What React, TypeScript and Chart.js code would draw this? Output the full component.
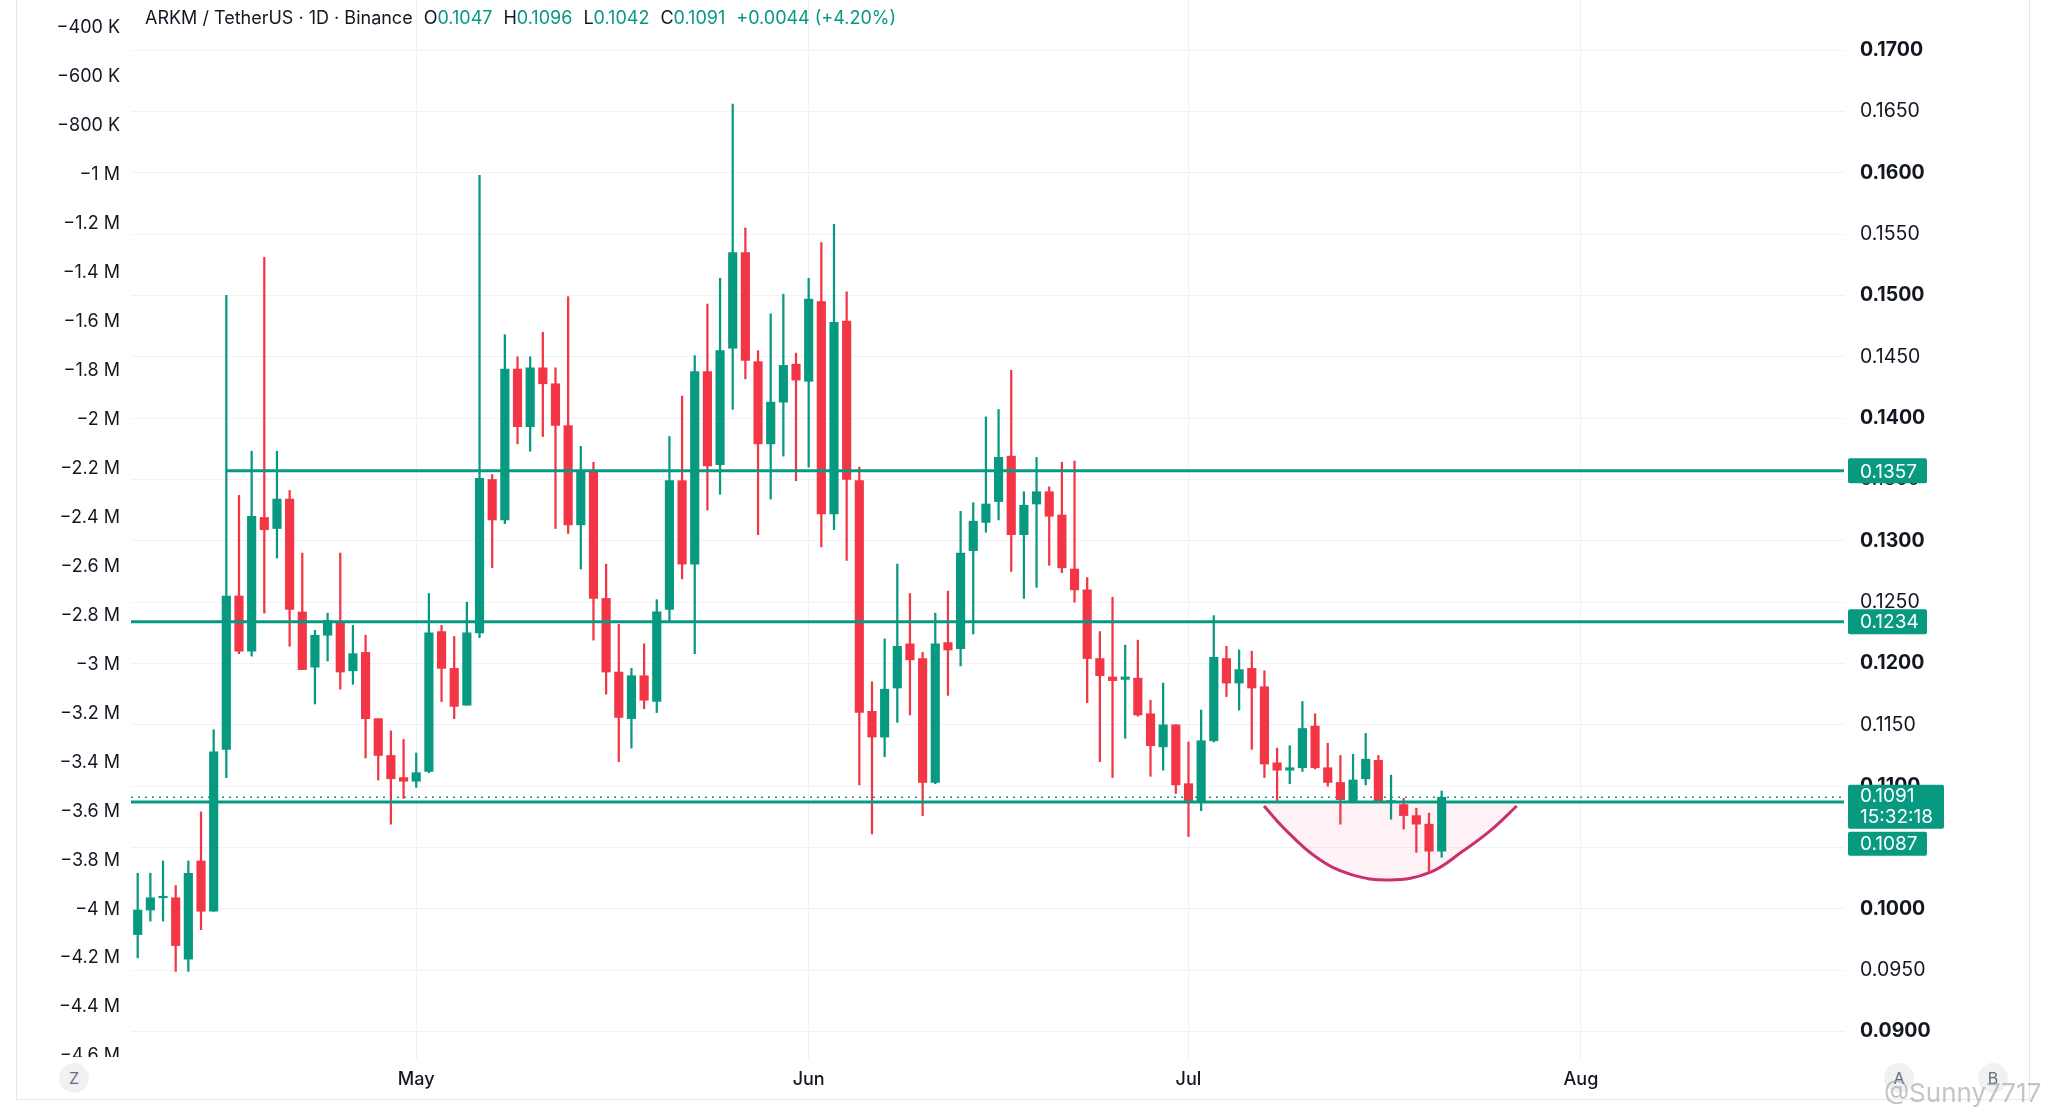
import React, { useEffect, useRef } from "react";
import { Chart, registerables } from "chart.js";

Chart.register(...registerables);

// ---------- data ----------
const startDate = "2024-04-09"; // day index 0
const opens = [
  0.0979, 0.0999, 0.1009, 0.1009, 0.0959, 0.1039, 0.0998, 0.1130, 0.1255, 0.1210,
  0.1319, 0.1310, 0.1334, 0.1242, 0.1197, 0.1223, 0.1233, 0.1194, 0.1209, 0.1155,
  0.1125, 0.1107, 0.1104, 0.1112, 0.1226, 0.1196, 0.1166, 0.1225, 0.1350, 0.1317,
  0.1440, 0.1393, 0.1441, 0.1428, 0.1394, 0.1313, 0.1356, 0.1253, 0.1193, 0.1155,
  0.1190, 0.1169, 0.1244, 0.1349, 0.1281, 0.1438, 0.1362, 0.1457, 0.1535, 0.1446,
  0.1379, 0.1413, 0.1444, 0.1430, 0.1495, 0.1322, 0.1479, 0.1349, 0.1161, 0.1140,
  0.1180, 0.1216, 0.1204, 0.1103, 0.1217, 0.1212, 0.1292, 0.1315, 0.1332, 0.1369,
  0.1305, 0.1330, 0.1340, 0.1321, 0.1277, 0.1260, 0.1204, 0.1189, 0.1187, 0.1188,
  0.1159, 0.1132, 0.1150, 0.1102, 0.1087, 0.1137, 0.1204, 0.1184, 0.1196, 0.1181,
  0.1119, 0.1113, 0.1115, 0.1149, 0.1115, 0.1103, 0.1088, 0.1106, 0.1121, 0.1087,
  0.1085, 0.1076, 0.1069, 0.1047,
];
const highs = [
  0.1029, 0.1029, 0.1039, 0.1019, 0.1039, 0.1079, 0.1146, 0.1500, 0.1337, 0.1373,
  0.1531, 0.1373, 0.1341, 0.1290, 0.1227, 0.1241, 0.1290, 0.1231, 0.1223, 0.1155,
  0.1145, 0.1138, 0.1127, 0.1257, 0.1231, 0.1222, 0.1250, 0.1598, 0.1354, 0.1468,
  0.1450, 0.1450, 0.1470, 0.1441, 0.1499, 0.1377, 0.1364, 0.1281, 0.1232, 0.1196,
  0.1216, 0.1252, 0.1385, 0.1418, 0.1451, 0.1493, 0.1514, 0.1656, 0.1555, 0.1455,
  0.1485, 0.1501, 0.1453, 0.1514, 0.1543, 0.1558, 0.1503, 0.1360, 0.1185, 0.1220,
  0.1281, 0.1257, 0.1209, 0.1241, 0.1259, 0.1324, 0.1331, 0.1401, 0.1407, 0.1439,
  0.1340, 0.1368, 0.1344, 0.1364, 0.1365, 0.1270, 0.1226, 0.1254, 0.1215, 0.1219,
  0.1170, 0.1184, 0.1150, 0.1136, 0.1162, 0.1239, 0.1214, 0.1211, 0.1210, 0.1194,
  0.1131, 0.1133, 0.1169, 0.1159, 0.1135, 0.1125, 0.1126, 0.1143, 0.1125, 0.1109,
  0.1090, 0.1082, 0.1078, 0.1096,
];
const lows = [
  0.0960, 0.0990, 0.0990, 0.0949, 0.0949, 0.0983, 0.0998, 0.1107, 0.1208, 0.1206,
  0.1241, 0.1286, 0.1214, 0.1195, 0.1167, 0.1202, 0.1179, 0.1183, 0.1123, 0.1105,
  0.1069, 0.1090, 0.1099, 0.1111, 0.1169, 0.1155, 0.1166, 0.1221, 0.1278, 0.1314,
  0.1379, 0.1373, 0.1385, 0.1310, 0.1306, 0.1277, 0.1219, 0.1175, 0.1120, 0.1131,
  0.1163, 0.1160, 0.1234, 0.1269, 0.1208, 0.1325, 0.1338, 0.1407, 0.1432, 0.1305,
  0.1334, 0.1369, 0.1349, 0.1360, 0.1295, 0.1309, 0.1284, 0.1101, 0.1061, 0.1124,
  0.1152, 0.1158, 0.1076, 0.1102, 0.1174, 0.1198, 0.1224, 0.1307, 0.1317, 0.1275,
  0.1253, 0.1262, 0.1280, 0.1274, 0.1250, 0.1168, 0.1120, 0.1107, 0.1139, 0.1157,
  0.1108, 0.1113, 0.1094, 0.1059, 0.1080, 0.1136, 0.1173, 0.1162, 0.1130, 0.1107,
  0.1087, 0.1102, 0.1112, 0.1114, 0.1100, 0.1069, 0.1087, 0.1101, 0.1087, 0.1073,
  0.1065, 0.1046, 0.1030, 0.1042,
];
const closes = [
  0.0999, 0.1009, 0.1010, 0.0970, 0.1029, 0.0998, 0.1128, 0.1255, 0.1210, 0.1320,
  0.1309, 0.1334, 0.1244, 0.1195, 0.1223, 0.1235, 0.1193, 0.1208, 0.1155, 0.1125,
  0.1106, 0.1104, 0.1111, 0.1225, 0.1196, 0.1165, 0.1225, 0.1351, 0.1317, 0.1440,
  0.1393, 0.1441, 0.1428, 0.1394, 0.1313, 0.1356, 0.1253, 0.1193, 0.1156, 0.1190,
  0.1170, 0.1242, 0.1349, 0.1281, 0.1438, 0.1361, 0.1455, 0.1535, 0.1447, 0.1379,
  0.1413, 0.1443, 0.1431, 0.1497, 0.1322, 0.1478, 0.1350, 0.1160, 0.1140, 0.1179,
  0.1214, 0.1203, 0.1103, 0.1216, 0.1211, 0.1290, 0.1316, 0.1330, 0.1368, 0.1305,
  0.1329, 0.1340, 0.1320, 0.1278, 0.1260, 0.1204, 0.1190, 0.1186, 0.1189, 0.1158,
  0.1133, 0.1150, 0.1101, 0.1088, 0.1137, 0.1205, 0.1184, 0.1195, 0.1180, 0.1118,
  0.1113, 0.1115, 0.1147, 0.1115, 0.1103, 0.1089, 0.1105, 0.1122, 0.1088, 0.1088,
  0.1076, 0.1069, 0.1047, 0.1091,
];

const monthTickDays = [22, 53, 83, 114];
const monthTickLabels = ["May", "Jun", "Jul", "Aug"];

const priceTicks = [
  0.09, 0.095, 0.1, 0.105, 0.11, 0.115, 0.12, 0.125, 0.13, 0.135, 0.14, 0.145,
  0.15, 0.155, 0.16, 0.165, 0.17,
];
const volumeTicks = [
  -400000, -600000, -800000, -1000000, -1200000, -1400000, -1600000, -1800000,
  -2000000, -2200000, -2400000, -2600000, -2800000, -3000000, -3200000, -3400000,
  -3600000, -3800000, -4000000, -4200000, -4400000, -4600000,
];

const levelPrices = [0.1357, 0.1234, 0.1087];
const levelStartDays = [7, null, null];
const lastPrice = 0.1091;
const countdown = "15:32:18";

const arcDays = [88.97, 90.49, 93.13, 95.76, 98.92, 102.08, 104.71, 106.82, 108.93];
const arcPrices = [0.10838, 0.10662, 0.10418, 0.10283, 0.10235, 0.10297, 0.10473, 0.10635, 0.10838];

// ---------- styles / layout ----------
const UP = "#089981";
const DOWN = "#f23645";
const TEAL = "#089981";
const TEXT = "#131722";
const GRID = "#f1f2f5";
const FONT = "Inter, 'Noto Sans', sans-serif";

const X_MIN = -0.53;
const X_MAX = 134.78;
const P_MAX = 0.174083;
const P_MIN = 0.087676;
const V_MAX = -286400;
const V_MIN = -4616300;

const fmtVol = (v: number) => {
  const a = Math.abs(v);
  const s = a >= 1e6 ? `${+(a / 1e6).toFixed(1)} M` : `${Math.round(a / 1e3)} K`;
  return "\u2212" + s;
};

const overlayPlugin = {
  id: "overlayLabels",
  afterDraw(chart: any) {
    const { ctx, chartArea } = chart;
    const y = chart.scales.y;
    ctx.save();
    // clip the overflowing bottom volume label
    ctx.fillStyle = "#ffffff";
    ctx.fillRect(17, chartArea.bottom - 3, chartArea.left - 18, 16);

    const bx = chartArea.right + 4;
    const tx = chartArea.right + 16;
    const drawBox = (top: number, w: number, h: number) => {
      ctx.fillStyle = TEAL;
      ctx.beginPath();
      (ctx as any).roundRect ? (ctx as any).roundRect(bx, top, w, h, 2) : ctx.rect(bx, top, w, h);
      ctx.fill();
    };
    ctx.font = `19px ${FONT}`;
    ctx.textBaseline = "middle";
    ctx.textAlign = "left";

    // level labels
    [levelPrices[0], levelPrices[1]].forEach((p) => {
      const py = y.getPixelForValue(p);
      drawBox(py - 12.5, 79, 25);
      ctx.fillStyle = "#ffffff";
      ctx.fillText(p.toFixed(4), tx, py + 1);
    });

    // current price + countdown
    const cy = y.getPixelForValue(lastPrice);
    const top = cy - 12.5;
    drawBox(top, 96, 44);
    ctx.fillStyle = "#ffffff";
    ctx.fillText(lastPrice.toFixed(4), tx, top + 12);
    ctx.fillText(countdown, tx, top + 33);
    // lower level label pushed below
    drawBox(top + 47, 79, 24);
    ctx.fillStyle = "#ffffff";
    ctx.fillText(levelPrices[2].toFixed(4), tx, top + 59.5);
    ctx.restore();
  },
};

export default function App() {
  const ref = useRef<HTMLCanvasElement>(null);

  useEffect(() => {
    document.body.style.margin = "0";
    const idx = opens.map((_, i) => i);
    const colors = idx.map((i) => (closes[i] >= opens[i] ? UP : DOWN));
    const wickData = idx.map((i) => ({ x: i, y: [lows[i], highs[i]] }));
    const bodyData = idx.map((i) => ({ x: i, y: [opens[i], closes[i]] }));

    const levelSets = levelPrices.map((p, k) => ({
      type: "line" as const,
      data: [
        { x: levelStartDays[k] ?? X_MIN, y: p },
        { x: X_MAX, y: p },
      ],
      borderColor: TEAL,
      borderWidth: 3,
      pointRadius: 0,
      order: 0,
      yAxisID: "y",
    }));

    const chart = new Chart(ref.current as HTMLCanvasElement, {
      type: "bar",
      data: {
        datasets: [
          {
            type: "line",
            data: arcDays.map((d, i) => ({ x: d, y: arcPrices[i] })),
            borderColor: "#c9306f",
            borderWidth: 3,
            backgroundColor: "rgba(233, 30, 99, 0.06)",
            fill: { value: 0.1086 },
            tension: 0.4,
            pointRadius: 0,
            order: 5,
            yAxisID: "y",
          },
          {
            type: "bar",
            data: wickData,
            backgroundColor: colors,
            barThickness: 1.6,
            grouped: false,
            borderWidth: 0,
            order: 3,
            yAxisID: "y",
          },
          {
            type: "bar",
            data: bodyData,
            backgroundColor: colors,
            barThickness: 8.5,
            minBarLength: 1.5,
            grouped: false,
            borderWidth: 0,
            order: 2,
            yAxisID: "y",
          },
          {
            type: "line",
            data: [
              { x: X_MIN, y: lastPrice },
              { x: X_MAX, y: lastPrice },
            ],
            borderColor: TEAL,
            borderWidth: 1.5,
            borderDash: [2, 5],
            pointRadius: 0,
            order: 1,
            yAxisID: "y",
          },
          ...levelSets,
        ] as any,
      },
      plugins: [overlayPlugin],
      options: {
        responsive: false,
        animation: false,
        events: [],
        layout: { padding: 0 },
        plugins: { legend: { display: false }, tooltip: { enabled: false } },
        scales: {
          x: {
            type: "linear",
            position: "bottom",
            min: X_MIN,
            max: X_MAX,
            offset: false,
            grid: { color: GRID, drawTicks: false, offset: false },
            border: { display: false },
            afterBuildTicks: (s: any) => {
              s.ticks = monthTickDays.map((v) => ({ value: v }));
            },
            afterFit: (s: any) => {
              s.height = 58;
              s.paddingLeft = 0;
              s.paddingRight = 0;
            },
            ticks: {
              autoSkip: false,
              maxRotation: 0,
              padding: 9,
              color: TEXT,
              font: { family: FONT, size: 18, weight: "500" },
              callback: (v: any) => {
                const k = monthTickDays.indexOf(Number(v));
                return k >= 0 ? monthTickLabels[k] : "";
              },
            },
          },
          y: {
            type: "linear",
            position: "right",
            min: P_MIN,
            max: P_MAX,
            grid: { color: GRID, drawTicks: false },
            border: { display: false },
            afterBuildTicks: (s: any) => {
              s.ticks = priceTicks.map((v) => ({ value: v }));
            },
            afterFit: (s: any) => {
              s.width = 202;
              s.paddingTop = 0;
              s.paddingBottom = 0;
            },
            ticks: {
              autoSkip: false,
              padding: 16,
              color: TEXT,
              font: (c: any) => {
                const v = c.tick ? c.tick.value : 0;
                const major = Math.round(v * 10000) % 100 === 0;
                return { family: FONT, size: 19.5, weight: major ? "bold" : "normal" };
              },
              callback: (v: any) => Number(v).toFixed(4),
            },
          },
          yVol: {
            type: "linear",
            position: "left",
            min: V_MIN,
            max: V_MAX,
            grid: { display: false, drawTicks: false },
            border: { display: false },
            afterBuildTicks: (s: any) => {
              s.ticks = volumeTicks.map((v) => ({ value: v }));
            },
            afterFit: (s: any) => {
              s.width = 131;
              s.paddingTop = 0;
              s.paddingBottom = 0;
            },
            ticks: {
              autoSkip: false,
              padding: 11,
              color: TEXT,
              font: { family: FONT, size: 18 },
              callback: (v: any) => fmtVol(Number(v)),
            },
          },
        },
      } as any,
    });
    void startDate;
    return () => chart.destroy();
  }, []);

  const circle = (left: number, label: string) => (
    <div
      style={{
        position: "absolute",
        left: left - 15,
        top: 1063,
        width: 30,
        height: 30,
        borderRadius: 15,
        background: "#f0f1f4",
        color: "#6a6d78",
        fontSize: 16,
        lineHeight: "30px",
        textAlign: "center",
      }}
    >
      {label}
    </div>
  );

  const hv = (k: string, v: string) => (
    <span style={{ marginLeft: 11 }}>
      <span style={{ color: TEXT }}>{k}</span>
      <span style={{ color: TEAL }}>{v}</span>
    </span>
  );

  return (
    <div
      style={{
        position: "fixed",
        left: 0,
        top: 0,
        width: 2046,
        height: 1118,
        background: "#ffffff",
        overflow: "hidden",
        fontFamily: FONT,
      }}
    >
      <div
        style={{
          position: "absolute",
          left: 16,
          top: -1,
          width: 2014,
          height: 1101,
          boxSizing: "border-box",
          borderLeft: "1px solid #e6e8ec",
          borderRight: "1px solid #e6e8ec",
          borderBottom: "1px solid #e6e8ec",
        }}
      />
      <canvas
        ref={ref}
        width={2046}
        height={1118}
        style={{ position: "absolute", left: 0, top: 0, width: 2046, height: 1118 }}
      />
      <div
        style={{
          position: "absolute",
          left: 145,
          top: 6,
          fontSize: 18,
          lineHeight: "24px",
          whiteSpace: "nowrap",
          color: TEXT,
        }}
      >
        <span>ARKM / TetherUS · 1D · Binance</span>
        {hv("O", "0.1047")}
        {hv("H", "0.1096")}
        {hv("L", "0.1042")}
        {hv("C", "0.1091")}
        <span style={{ marginLeft: 11, color: TEAL }}>+0.0044 (+4.20%)</span>
      </div>
      {circle(74, "Z")}
      {circle(1899, "A")}
      {circle(1993, "B")}
      <div
        style={{
          position: "absolute",
          left: 1884,
          top: 1077,
          fontSize: 26,
          color: "rgba(150,150,150,0.55)",
          whiteSpace: "nowrap",
        }}
      >
        @Sunny7717
      </div>
    </div>
  );
}
